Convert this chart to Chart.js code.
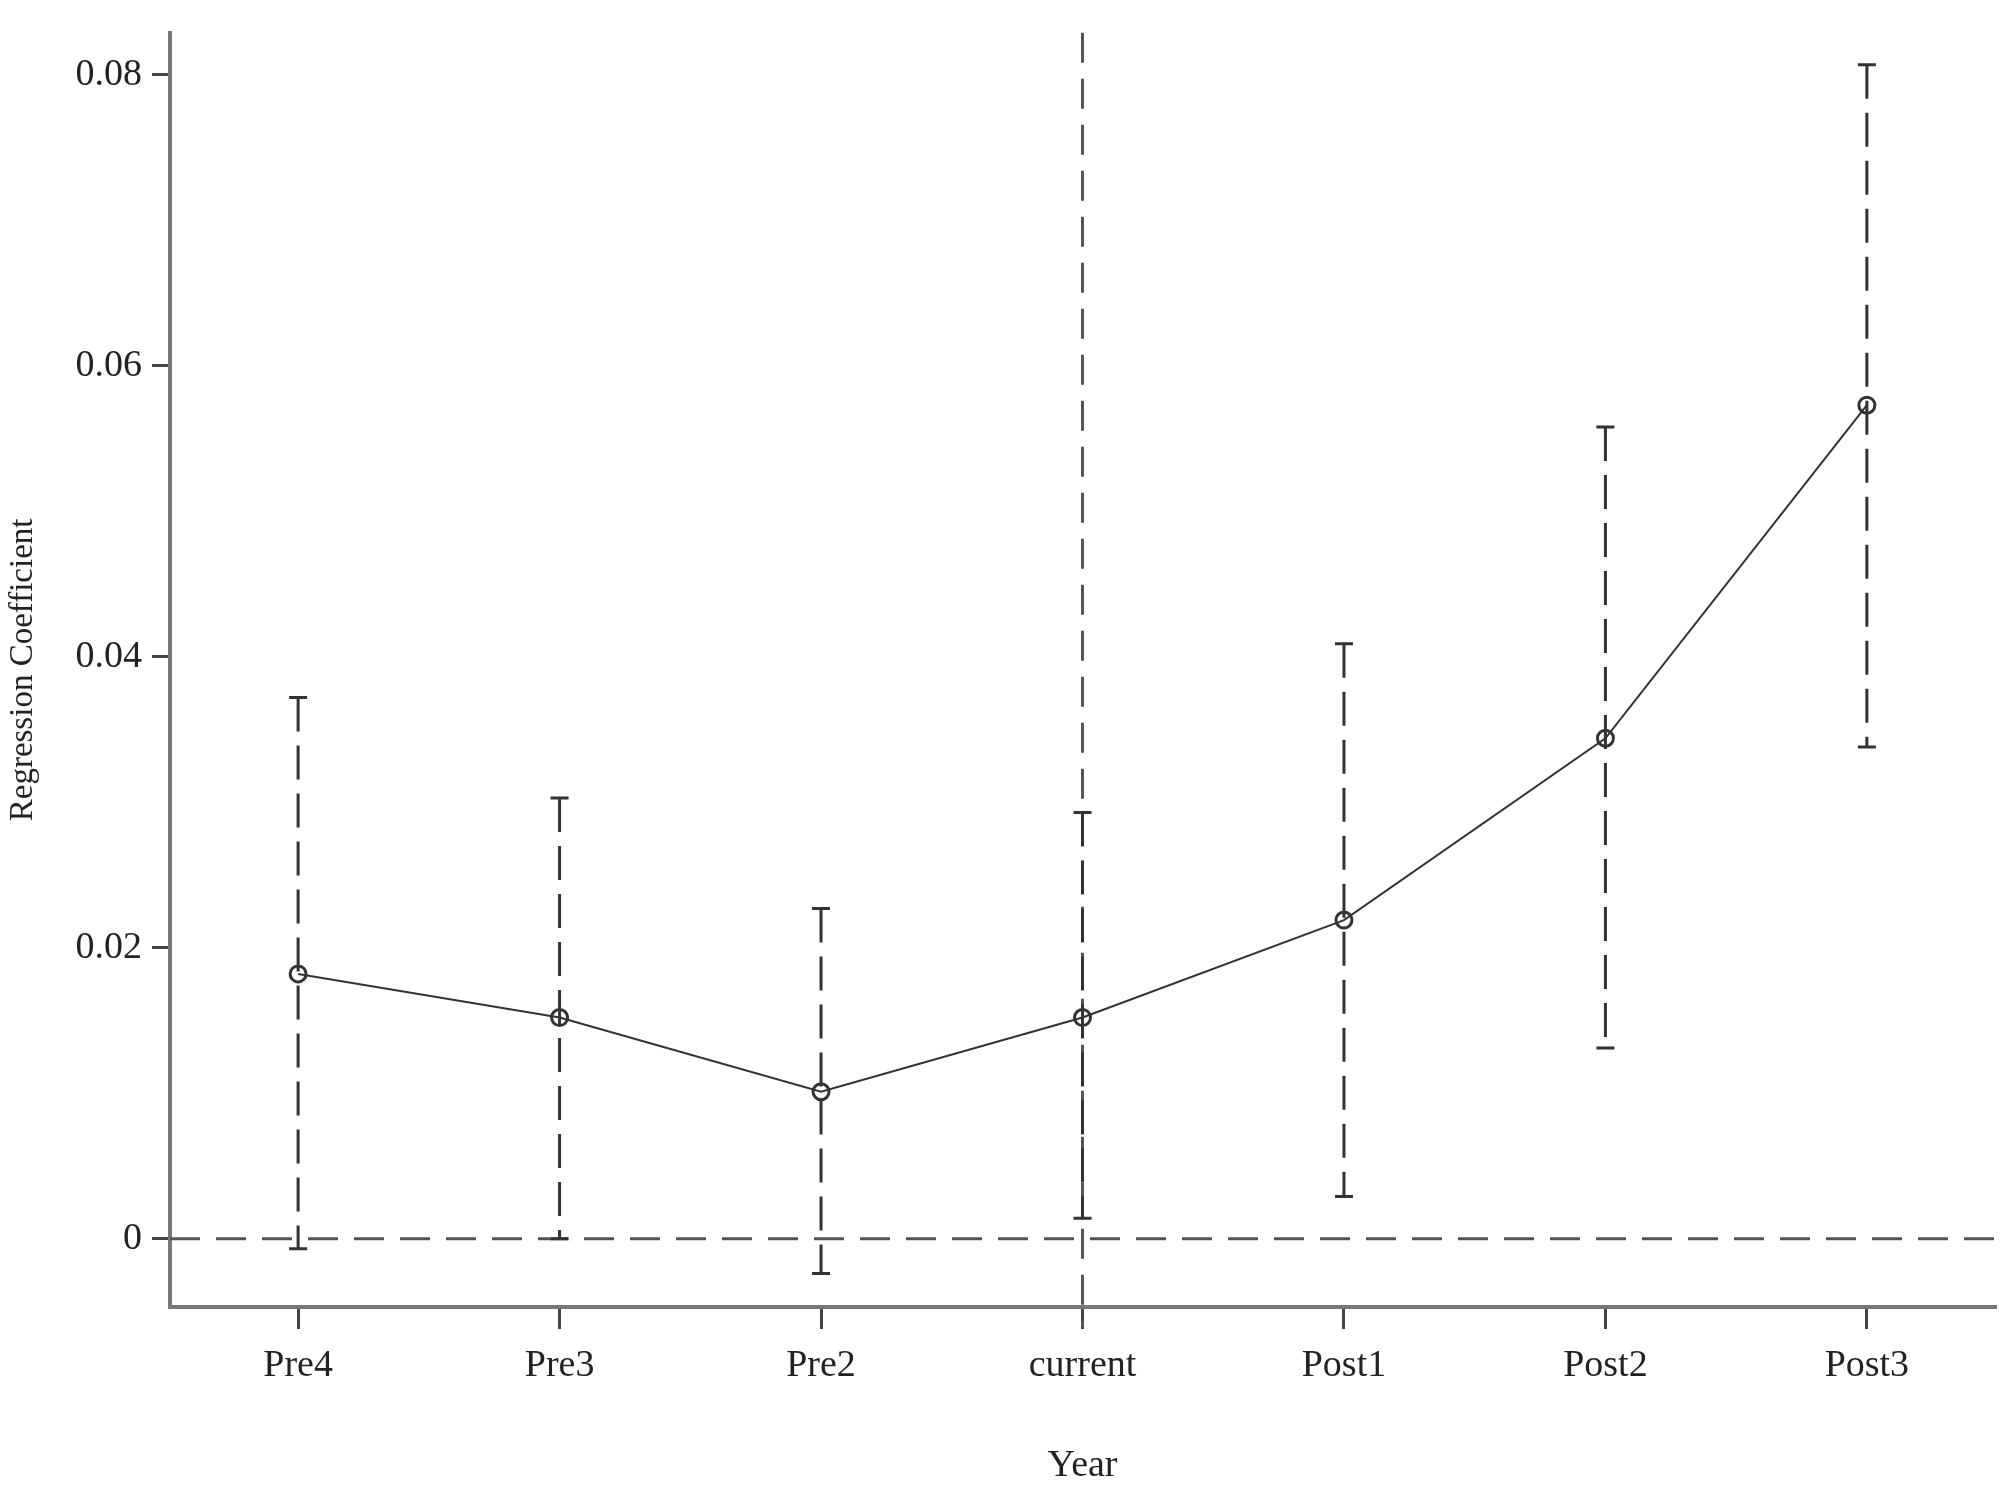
<!DOCTYPE html>
<html><head><meta charset="utf-8">
<script src="https://cdn.jsdelivr.net/npm/chart.js@4"></script>
<style>body{margin:0;background:#fff}#wrap{width:2015px;height:1493px}</style>
</head><body><div id="wrap"><canvas id="c"></canvas></div>
<script>
var categories = ["Pre4", "Pre3", "Pre2", "current", "Post1", "Post2", "Post3"];
var coef = [0.0182, 0.0152, 0.0101, 0.0152, 0.0219, 0.0344, 0.0573];
var upper = [0.0372, 0.0303, 0.0227, 0.0293, 0.0409, 0.0558, 0.0807];
var lower = [-0.0007, 0.0, -0.0024, 0.0014, 0.0029, 0.0131, 0.0338];
var yTicks = [0, 0.02, 0.04, 0.06, 0.08];

var points = coef.map(function(v, i) { return {x: i, y: v}; });

// error bars + reference lines
var extras = {
  id: 'extras',
  beforeDatasetsDraw: function(chart) {
    var ctx = chart.ctx, xs = chart.scales.x, ys = chart.scales.y, a = chart.chartArea;
    ctx.save();
    ctx.strokeStyle = '#555';
    ctx.lineWidth = 3;
    ctx.setLineDash([30, 16]);
    var y0 = ys.getPixelForValue(0);
    ctx.beginPath(); ctx.moveTo(a.left, y0); ctx.lineTo(a.right, y0); ctx.stroke();
    var xc = xs.getPixelForValue(3);
    ctx.beginPath(); ctx.moveTo(xc, a.top); ctx.lineTo(xc, a.bottom + 20); ctx.stroke();
    ctx.strokeStyle = '#333';
    for (var i = 0; i < categories.length; i++) {
      var x = xs.getPixelForValue(i), yt = ys.getPixelForValue(upper[i]), yb = ys.getPixelForValue(lower[i]);
      ctx.setLineDash([34, 14]);
      ctx.beginPath(); ctx.moveTo(x, yt); ctx.lineTo(x, yb); ctx.stroke();
      ctx.setLineDash([]);
      ctx.beginPath();
      ctx.moveTo(x - 9, yt); ctx.lineTo(x + 9, yt);
      ctx.moveTo(x - 9, yb); ctx.lineTo(x + 9, yb);
      ctx.stroke();
    }
    ctx.restore();
  }
};

new Chart(document.getElementById('c'), {
  type: 'scatter',
  data: {
    datasets: [{
      data: points,
      showLine: true,
      borderColor: '#333',
      borderWidth: 2,
      pointRadius: 8,
      pointBorderWidth: 3,
      pointBackgroundColor: 'rgba(0,0,0,0)',
      pointBorderColor: '#333'
    }]
  },
  plugins: [extras],
  options: {
    responsive: true,
    maintainAspectRatio: false,
    animation: false,
    layout: {padding: {top: 9, right: 20, left: 0, bottom: 0}},
    plugins: {legend: {display: false}, tooltip: {enabled: false}},
    scales: {
      x: {
        type: 'linear', min: -0.49, max: 6.49,
        afterBuildTicks: function(s) { s.ticks = categories.map(function(c, i) { return {value: i}; }); },
        afterFit: function(s) { s.height = 186; },
        ticks: {
          color: '#222', padding: 14,
          font: {family: 'Liberation Serif', size: 38},
          callback: function(v) { return categories[v]; }
        },
        grid: {drawOnChartArea: false, drawTicks: true, tickLength: 22, color: '#444', lineWidth: 3},
        border: {color: '#777', width: 4},
        title: {display: true, text: 'Year', color: '#222', font: {family: 'Liberation Serif', size: 38}, padding: {top: 18}}
      },
      y: {
        min: -0.0047, max: 0.0829,
        afterBuildTicks: function(s) { s.ticks = yTicks.map(function(v) { return {value: v}; }); },
        afterFit: function(s) { s.width = 170; },
        ticks: {
          color: '#222', padding: 10,
          font: {family: 'Liberation Serif', size: 38},
          callback: function(v) { return v === 0 ? '0' : v.toFixed(2); }
        },
        grid: {drawOnChartArea: false, drawTicks: true, tickLength: 18, color: '#444', lineWidth: 3},
        border: {color: '#777', width: 4},
        title: {display: true, text: 'Regression Coefficient', color: '#222', font: {family: 'Liberation Serif', size: 33}, padding: {bottom: 6}}
      }
    }
  }
});
</script></body></html>
